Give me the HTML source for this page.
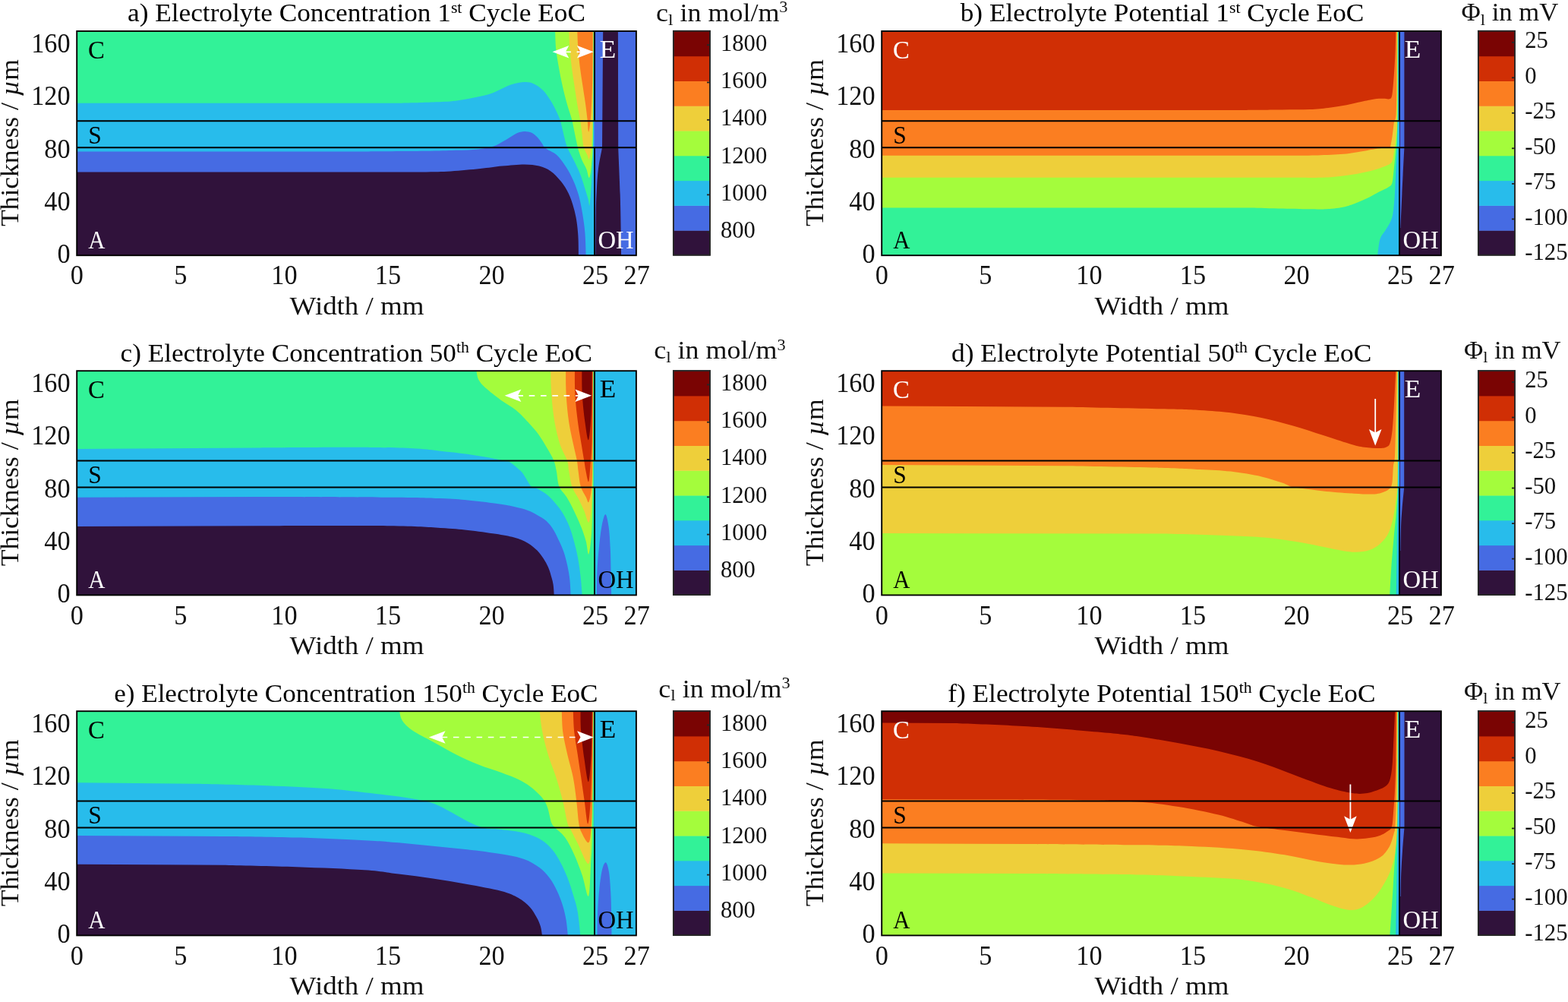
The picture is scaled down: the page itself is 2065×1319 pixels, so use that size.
<!DOCTYPE html>
<html><head><meta charset="utf-8"><title>Electrolyte concentration and potential</title>
<style>html,body{margin:0;padding:0;background:#fff;overflow:hidden;}svg{display:block;}text{font-family:'Liberation Serif', 'DejaVu Serif', serif;}</style>
</head><body>
<svg width="2065" height="1319" viewBox="0 0 2065 1319">
<rect width="2065" height="1319" fill="#fff"/>
<clipPath id="cp00"><rect x="101.2" y="41" width="736.7" height="295.2"/></clipPath>
<g clip-path="url(#cp00)">
<rect x="95" y="39" width="750" height="299" fill="#466be3"/>
<path d="M99,199.5 L480,199.4 C493.3,199.3 540,199.1 560,198.8 C580,198.5 588.3,198.2 600,197.8 C611.7,197.4 621.7,197.3 630,196.4 C638.3,195.5 644.6,194.2 649.9,192.6 C655.1,191 658,188.7 661.5,186.8 C665,184.9 668,182.9 671.2,181 C674.4,179.1 677.7,176.5 680.9,175.2 C684.1,173.8 687.4,173 690.6,172.9 C693.8,172.8 697.3,173.5 700.2,174.8 C703.1,176.2 705.7,178.7 708,181 C710.3,183.3 712.3,186.6 713.8,188.7 C715.2,190.8 715.5,192.2 716.7,193.6 C718,195 718.5,195.2 721.3,197 C724.1,198.8 729.5,200.5 733.5,204.3 C737.5,208.1 742,214.3 745.6,220 C749.2,225.7 752.5,231.7 755.3,238.2 C758.1,244.7 760.6,251.4 762.6,258.9 C764.6,266.4 766.1,275 767.4,283.1 C768.7,291.2 769.8,298.2 770.5,307.4 C771.2,316.5 771.5,332.9 771.7,338 L782.5,338 L782.5,39 L99,39 Z" fill="#28bceb"/>
<path d="M99,226.4 L477,226.4 C490,226.4 535.5,226.6 555,226.4 C574.5,226.2 580.8,226.1 593.7,225.4 C606.6,224.7 621.1,223.2 632.4,222.1 C643.7,221 651.8,219.5 661.5,218.6 C671.2,217.7 682.5,216.4 690.6,216.4 C698.7,216.4 704.1,217.1 709.9,218.6 C715.7,220.1 720.5,222.1 725.4,225.5 C730.2,228.9 735.1,234.2 739,239.1 C742.9,243.9 746.1,249.4 748.7,254.6 C751.3,259.8 752.9,264.9 754.5,270.1 C756.1,275.3 757.4,280.6 758.4,285.6 C759.4,290.6 760,295.1 760.5,300 C761,304.9 761.4,308.7 761.6,315 C761.9,321.3 761.9,334.2 762,338 L99,338 Z" fill="#30123b"/>
<path d="M99,135.8 L528,135.8 C535,135.6 558,135.1 570,134.6 C582,134.1 591,133.8 600,132.8 C609,131.8 616.2,130.3 624.3,128.6 C632.4,126.9 640.4,125.3 648.5,122.5 C656.6,119.7 665.7,114 672.8,111.6 C679.9,109.2 686,108.2 691,108 C696,107.8 699.1,108.6 703.1,110.4 C707.1,112.2 711.6,115.3 715.3,118.9 C718.9,122.5 722.4,128.2 725,132.2 C727.6,136.2 729,139 731,143.1 C733,147.2 735.6,152.4 737.1,156.5 C738.6,160.6 739,163 740.1,167.4 C741.2,171.8 742.6,178.4 743.8,183 C745,187.6 745.6,190.4 747.5,195 C749.4,199.6 752.6,204.7 755.3,210.3 C758,215.9 761.4,222.4 763.8,228.5 C766.2,234.6 768.1,241 769.9,246.7 C771.7,252.4 773.6,258.6 774.7,262.5 C775.8,266.4 775.8,273.4 776.5,269.8 C777.2,266.2 778.3,251.6 779,240.7 C779.7,229.8 780.4,219.4 780.8,204.3 C781.2,189.2 781.4,177.6 781.6,150 C781.8,122.5 781.8,57.5 781.8,39 L99,39 Z" fill="#32f298"/>
<path d="M731,39 C731.2,43.2 731.4,56 732.2,64.3 C733,72.5 734.5,80.4 735.9,88.5 C737.3,96.6 738.9,104.7 740.7,112.8 C742.5,120.9 744.8,129.7 746.8,137 C748.8,144.3 751.3,150.4 752.9,156.5 C754.5,162.6 755.5,168.7 756.5,173.5 C757.5,178.3 758.2,181.8 759,185.6 C759.8,189.3 760.2,191.9 761.4,196 C762.6,200.1 764.4,205.9 766.2,210.3 C768,214.7 770.7,218.6 772.3,222.5 C773.9,226.4 774.9,235 776,234 C777.1,233 778.2,225.4 779,216.4 C779.8,207.4 780.4,209.6 780.8,180 C781.2,150.4 781.5,62.5 781.6,39 Z" fill="#a4fc3c"/>
<path d="M749.2,39 C749.4,43.2 749.8,56 750.4,64.3 C751,72.5 751.9,80.4 752.9,88.5 C753.9,96.6 755.3,104.7 756.5,112.8 C757.7,120.9 759,129.7 760.2,137 C761.4,144.3 762.8,150.4 763.8,156.5 C764.8,162.6 765.4,167.4 766.2,173.5 C767,179.6 767.4,187.9 768.6,193 C769.8,198.1 772.3,201.6 773.5,204.3 C774.7,207 775.1,211.2 776,209.1 C776.9,207 778.2,201.8 779,192 C779.8,182.2 780.2,175.5 780.6,150 C781,124.5 781.2,57.5 781.3,39 Z" fill="#eecf3a"/>
<path d="M760.2,39 C760.4,43.2 760.8,56 761.4,64.3 C762,72.5 762.8,80.4 763.8,88.5 C764.8,96.6 766.2,104.7 767.4,112.8 C768.6,120.9 770.1,129.7 771.1,137 C772.1,144.3 772.8,150.4 773.5,156.5 C774.2,162.6 774.5,174.7 775.3,173.5 C776.1,172.3 777.6,161.3 778.4,149.2 C779.2,137.1 779.9,119.1 780.3,100.7 C780.7,82.3 780.7,49.3 780.8,39 Z" fill="#fb7e21"/>
<rect x="783" y="39" width="62" height="299" fill="#466be3"/>
<path d="M794.2,39 L813.9,39 L814.2,194.6 C814.6,205.5 816.1,236.1 816.8,260 C817.5,283.9 818,325 818.2,338 L784.4,338 C784.5,328.3 784.6,294.1 784.8,279.6 C785,265.1 785.3,260.4 785.8,250.8 C786.3,241.2 786.8,231.4 788,222 C789.2,212.6 792.2,199.2 793,194.6 L794.2,39 Z" fill="#30123b"/>
<line x1="744.3" y1="68.3" x2="764.9" y2="68.3" stroke="#fff" stroke-width="1.7" stroke-dasharray="7.6 7.7"/>
<path d="M727.5,68.3 L749.3,60 L744.8,68.3 L749.3,76.6 Z" fill="#fff"/>
<path d="M781.7,68.3 L759.9,60 L764.4,68.3 L759.9,76.6 Z" fill="#fff"/>
</g>
<g transform="translate(0,0)">
<path d="M101.2,159.3 H837.9 M101.2,194.3 H837.9 M783,41 V159.3 M783,194.3 V336.2" stroke="#000" stroke-width="1.9" fill="none"/>
<rect x="101.2" y="41" width="736.7" height="295.2" fill="none" stroke="#000" stroke-width="1.9"/>
<text x="116.1" y="76.8" font-size="34.5" text-anchor="start" fill="#000" textLength="21.9" lengthAdjust="spacingAndGlyphs">C</text>
<text x="116.2" y="188.8" font-size="34.5" text-anchor="start" fill="#000" textLength="17.5" lengthAdjust="spacingAndGlyphs">S</text>
<text x="116.3" y="327" font-size="34.5" text-anchor="start" fill="#fff" textLength="22.2" lengthAdjust="spacingAndGlyphs">A</text>
<text x="789.8" y="76" font-size="34.5" text-anchor="start" fill="#fff" textLength="21.5" lengthAdjust="spacingAndGlyphs">E</text>
<text x="787.4" y="327.2" font-size="34.5" text-anchor="start" fill="#fff" textLength="47.2" lengthAdjust="spacingAndGlyphs">OH</text>
<text x="92.5" y="346.2" font-size="35.5" text-anchor="end" fill="#111111" textLength="17.1" lengthAdjust="spacingAndGlyphs">0</text>
<text x="92.5" y="276.9" font-size="35.5" text-anchor="end" fill="#111111" textLength="34.2" lengthAdjust="spacingAndGlyphs">40</text>
<text x="92.5" y="207.6" font-size="35.5" text-anchor="end" fill="#111111" textLength="34.2" lengthAdjust="spacingAndGlyphs">80</text>
<text x="92.5" y="138.3" font-size="35.5" text-anchor="end" fill="#111111" textLength="51.3" lengthAdjust="spacingAndGlyphs">120</text>
<text x="92.5" y="69" font-size="35.5" text-anchor="end" fill="#111111" textLength="51.3" lengthAdjust="spacingAndGlyphs">160</text>
<text x="101.3" y="374.4" font-size="35.5" text-anchor="middle" fill="#111111" textLength="17.1" lengthAdjust="spacingAndGlyphs">0</text>
<text x="237.8" y="374.4" font-size="35.5" text-anchor="middle" fill="#111111" textLength="17.1" lengthAdjust="spacingAndGlyphs">5</text>
<text x="374.4" y="374.4" font-size="35.5" text-anchor="middle" fill="#111111" textLength="34.2" lengthAdjust="spacingAndGlyphs">10</text>
<text x="510.9" y="374.4" font-size="35.5" text-anchor="middle" fill="#111111" textLength="34.2" lengthAdjust="spacingAndGlyphs">15</text>
<text x="647.5" y="374.4" font-size="35.5" text-anchor="middle" fill="#111111" textLength="34.2" lengthAdjust="spacingAndGlyphs">20</text>
<text x="784" y="374.4" font-size="35.5" text-anchor="middle" fill="#111111" textLength="34.2" lengthAdjust="spacingAndGlyphs">25</text>
<text x="838.7" y="374.4" font-size="35.5" text-anchor="middle" fill="#111111" textLength="34.2" lengthAdjust="spacingAndGlyphs">27</text>
<text x="470" y="413.5" font-size="34" text-anchor="middle" fill="#111111" textLength="177" lengthAdjust="spacingAndGlyphs">Width / mm</text>
<text transform="translate(24,188.1) rotate(-90)" font-size="34" text-anchor="middle" fill="#111111" textLength="220" lengthAdjust="spacingAndGlyphs">Thickness / <tspan font-style="italic">µ</tspan>m</text>
</g>
<text x="168" y="28.3" font-size="34" fill="#000" textLength="603" lengthAdjust="spacingAndGlyphs">a) Electrolyte Concentration 1<tspan font-size="21" dy="-11.8">st</tspan><tspan dy="11.8"> Cycle EoC</tspan></text>
<g transform="translate(0,0)">
<rect x="886.9" y="303.2" width="48.1" height="33.2" fill="#30123b"/>
<rect x="886.9" y="270.5" width="48.1" height="33.2" fill="#466be3"/>
<rect x="886.9" y="237.7" width="48.1" height="33.2" fill="#28bceb"/>
<rect x="886.9" y="204.9" width="48.1" height="33.2" fill="#32f298"/>
<rect x="886.9" y="172.1" width="48.1" height="33.2" fill="#a4fc3c"/>
<rect x="886.9" y="139.3" width="48.1" height="33.2" fill="#eecf3a"/>
<rect x="886.9" y="106.6" width="48.1" height="33.2" fill="#fb7e21"/>
<rect x="886.9" y="73.8" width="48.1" height="33.2" fill="#d02f05"/>
<rect x="886.9" y="41" width="48.1" height="33.2" fill="#7a0403"/>
<rect x="886.9" y="40.8" width="48.1" height="295" fill="none" stroke="#262626" stroke-width="1.9"/>
<text x="864" y="27.5" font-size="34" fill="#111111" textLength="173.5" lengthAdjust="spacingAndGlyphs">c<tspan font-size="22" dy="5">l</tspan><tspan dy="-5"> in mol/m</tspan><tspan font-size="21" dy="-11.2">3</tspan></text>
<line x1="931" y1="59.2" x2="935" y2="59.2" stroke="#262626" stroke-width="1.8"/>
<text x="949" y="66.6" font-size="31.5" text-anchor="start" fill="#111111" textLength="61.2" lengthAdjust="spacingAndGlyphs">1800</text>
<line x1="931" y1="108.5" x2="935" y2="108.5" stroke="#262626" stroke-width="1.8"/>
<text x="949" y="115.9" font-size="31.5" text-anchor="start" fill="#111111" textLength="61.2" lengthAdjust="spacingAndGlyphs">1600</text>
<line x1="931" y1="157.8" x2="935" y2="157.8" stroke="#262626" stroke-width="1.8"/>
<text x="949" y="165.2" font-size="31.5" text-anchor="start" fill="#111111" textLength="61.2" lengthAdjust="spacingAndGlyphs">1400</text>
<line x1="931" y1="207.1" x2="935" y2="207.1" stroke="#262626" stroke-width="1.8"/>
<text x="949" y="214.5" font-size="31.5" text-anchor="start" fill="#111111" textLength="61.2" lengthAdjust="spacingAndGlyphs">1200</text>
<line x1="931" y1="256.4" x2="935" y2="256.4" stroke="#262626" stroke-width="1.8"/>
<text x="949" y="263.8" font-size="31.5" text-anchor="start" fill="#111111" textLength="61.2" lengthAdjust="spacingAndGlyphs">1000</text>
<line x1="931" y1="305.7" x2="935" y2="305.7" stroke="#262626" stroke-width="1.8"/>
<text x="949" y="313.1" font-size="31.5" text-anchor="start" fill="#111111" textLength="45.9" lengthAdjust="spacingAndGlyphs">800</text>
</g>
<clipPath id="cp10"><rect x="1161.2" y="41" width="736.7" height="295.2"/></clipPath>
<g clip-path="url(#cp10)">
<rect x="1155" y="39" width="688" height="299" fill="#28bceb"/>
<path d="M1159,39 L1841.3,39 L1841,150 L1840.1,194.5 C1839.8,199.4 1839,213.5 1838.4,224.1 C1837.8,234.7 1837.4,248.7 1836.7,258.2 C1836,267.7 1835.4,275.3 1834.4,281 C1833.5,286.7 1832.7,288.5 1831,292.3 C1829.3,296.1 1826.5,299.9 1824.2,303.7 C1821.9,307.5 1819.1,309.4 1817.4,315.1 C1815.7,320.8 1814.6,334.2 1814,338 L1159,338 Z" fill="#32f298"/>
<path d="M1159,273.6 L1640,273.6 C1653.3,273.9 1700.6,275.1 1719.6,275.3 C1738.5,275.5 1744.2,275.5 1753.7,274.7 C1763.2,273.9 1768.8,272.9 1776.4,270.7 C1784,268.5 1792.6,264.6 1799.2,261.6 C1805.8,258.6 1811.5,254.9 1816.2,252.5 C1820.9,250.1 1824.8,248.8 1827.6,246.9 C1830.4,245 1832,245 1833.3,241.2 C1834.6,237.4 1834.8,230.7 1835.6,224.1 C1836.3,217.5 1837.2,207.9 1837.8,201.4 C1838.4,194.9 1838.9,191.9 1839.3,185 C1839.7,178.1 1840.1,174.2 1840.3,160 C1840.5,145.8 1840.6,120.2 1840.7,100 C1840.8,79.8 1840.8,49.2 1840.8,39 L1159,39 Z" fill="#a4fc3c"/>
<path d="M1159,233.8 L1700,233.8 C1707,233.8 1731.5,234.1 1742.3,233.8 C1753.1,233.5 1757.4,232.9 1765,232.1 C1772.6,231.2 1780.2,230.1 1787.8,228.7 C1795.4,227.3 1803.9,225.4 1810.5,223.5 C1817.1,221.6 1823.8,219.1 1827.6,217.3 C1831.4,215.5 1832,215.3 1833.3,212.7 C1834.6,210 1835,204.4 1835.6,201.4 C1836.2,198.4 1836.2,198.1 1836.7,194.5 C1837.2,190.9 1837.8,185.8 1838.3,180 C1838.8,174.2 1839.3,173.3 1839.6,160 C1839.9,146.7 1840,120.2 1840.1,100 C1840.2,79.8 1840.2,49.2 1840.2,39 L1159,39 Z" fill="#eecf3a"/>
<path d="M1159,204.8 L1700,204.7 C1705.2,204.7 1720.2,204.9 1731,204.6 C1741.8,204.3 1755.5,203.8 1765,203.1 C1774.5,202.4 1780.2,201.3 1787.8,200.2 C1795.4,199.1 1804.8,197.2 1810.5,196.3 C1816.2,195.4 1820.1,194.9 1822,194.6 L1831,194.3 C1831.4,191.9 1832.7,185.5 1833.5,180 C1834.3,174.5 1835.1,166.3 1835.9,161.3 C1836.8,156.3 1838,160.2 1838.6,150 C1839.2,139.8 1839.2,118.5 1839.4,100 C1839.6,81.5 1839.5,49.2 1839.5,39 L1159,39 Z" fill="#fb7e21"/>
<path d="M1159,144.9 L1640,144.9 C1648.1,144.8 1674.3,144.6 1688.5,144.5 C1702.7,144.4 1714.8,144.5 1724.9,144.1 C1735,143.7 1741.1,142.9 1749.2,141.9 C1757.3,140.9 1765.3,139.7 1773.4,138.2 C1781.5,136.7 1791.6,134.1 1797.7,132.8 C1803.8,131.5 1805.8,130.9 1809.8,130.4 C1813.8,129.9 1818.7,129.8 1821.9,129.8 C1825.1,129.8 1827.4,130.8 1829.2,130.4 C1831,130 1831.9,130.2 1832.8,127.3 C1833.7,124.4 1834.1,119.3 1834.7,112.8 C1835.3,106.3 1836,96.6 1836.5,88.5 C1837,80.4 1837.4,72.5 1837.7,64.3 C1838,56 1838.2,43.2 1838.3,39 L1159,39 Z" fill="#d02f05"/>
<rect x="1843" y="39" width="62" height="299" fill="#30123b"/>
<path d="M1844.6,39 L1849.4,39 L1849.4,194.5 C1849.1,200.4 1848.1,219.4 1847.6,230 C1847.1,240.6 1846.8,246.3 1846.3,258 C1845.8,269.7 1844.7,293 1844.4,300 L1843.8,300 L1843.8,39 Z" fill="#466be3"/>
</g>
<g transform="translate(1060,0)">
<path d="M101.2,159.3 H837.9 M101.2,194.3 H837.9 M783,41 V159.3 M783,194.3 V336.2" stroke="#000" stroke-width="1.9" fill="none"/>
<rect x="101.2" y="41" width="736.7" height="295.2" fill="none" stroke="#000" stroke-width="1.9"/>
<text x="116.1" y="76.8" font-size="34.5" text-anchor="start" fill="#fff" textLength="21.9" lengthAdjust="spacingAndGlyphs">C</text>
<text x="116.2" y="188.8" font-size="34.5" text-anchor="start" fill="#000" textLength="17.5" lengthAdjust="spacingAndGlyphs">S</text>
<text x="116.3" y="327" font-size="34.5" text-anchor="start" fill="#000" textLength="22.2" lengthAdjust="spacingAndGlyphs">A</text>
<text x="789.8" y="76" font-size="34.5" text-anchor="start" fill="#fff" textLength="21.5" lengthAdjust="spacingAndGlyphs">E</text>
<text x="787.4" y="327.2" font-size="34.5" text-anchor="start" fill="#fff" textLength="47.2" lengthAdjust="spacingAndGlyphs">OH</text>
<text x="92.5" y="346.2" font-size="35.5" text-anchor="end" fill="#111111" textLength="17.1" lengthAdjust="spacingAndGlyphs">0</text>
<text x="92.5" y="276.9" font-size="35.5" text-anchor="end" fill="#111111" textLength="34.2" lengthAdjust="spacingAndGlyphs">40</text>
<text x="92.5" y="207.6" font-size="35.5" text-anchor="end" fill="#111111" textLength="34.2" lengthAdjust="spacingAndGlyphs">80</text>
<text x="92.5" y="138.3" font-size="35.5" text-anchor="end" fill="#111111" textLength="51.3" lengthAdjust="spacingAndGlyphs">120</text>
<text x="92.5" y="69" font-size="35.5" text-anchor="end" fill="#111111" textLength="51.3" lengthAdjust="spacingAndGlyphs">160</text>
<text x="101.3" y="374.4" font-size="35.5" text-anchor="middle" fill="#111111" textLength="17.1" lengthAdjust="spacingAndGlyphs">0</text>
<text x="237.8" y="374.4" font-size="35.5" text-anchor="middle" fill="#111111" textLength="17.1" lengthAdjust="spacingAndGlyphs">5</text>
<text x="374.4" y="374.4" font-size="35.5" text-anchor="middle" fill="#111111" textLength="34.2" lengthAdjust="spacingAndGlyphs">10</text>
<text x="510.9" y="374.4" font-size="35.5" text-anchor="middle" fill="#111111" textLength="34.2" lengthAdjust="spacingAndGlyphs">15</text>
<text x="647.5" y="374.4" font-size="35.5" text-anchor="middle" fill="#111111" textLength="34.2" lengthAdjust="spacingAndGlyphs">20</text>
<text x="784" y="374.4" font-size="35.5" text-anchor="middle" fill="#111111" textLength="34.2" lengthAdjust="spacingAndGlyphs">25</text>
<text x="838.7" y="374.4" font-size="35.5" text-anchor="middle" fill="#111111" textLength="34.2" lengthAdjust="spacingAndGlyphs">27</text>
<text x="470" y="413.5" font-size="34" text-anchor="middle" fill="#111111" textLength="177" lengthAdjust="spacingAndGlyphs">Width / mm</text>
<text transform="translate(24,188.1) rotate(-90)" font-size="34" text-anchor="middle" fill="#111111" textLength="220" lengthAdjust="spacingAndGlyphs">Thickness / <tspan font-style="italic">µ</tspan>m</text>
</g>
<text x="1264.7" y="28.3" font-size="34" fill="#000" textLength="531.7" lengthAdjust="spacingAndGlyphs">b) Electrolyte Potential 1<tspan font-size="21" dy="-11.8">st</tspan><tspan dy="11.8"> Cycle EoC</tspan></text>
<g transform="translate(1060,0)">
<rect x="886.9" y="303.2" width="48.1" height="33.2" fill="#30123b"/>
<rect x="886.9" y="270.5" width="48.1" height="33.2" fill="#466be3"/>
<rect x="886.9" y="237.7" width="48.1" height="33.2" fill="#28bceb"/>
<rect x="886.9" y="204.9" width="48.1" height="33.2" fill="#32f298"/>
<rect x="886.9" y="172.1" width="48.1" height="33.2" fill="#a4fc3c"/>
<rect x="886.9" y="139.3" width="48.1" height="33.2" fill="#eecf3a"/>
<rect x="886.9" y="106.6" width="48.1" height="33.2" fill="#fb7e21"/>
<rect x="886.9" y="73.8" width="48.1" height="33.2" fill="#d02f05"/>
<rect x="886.9" y="41" width="48.1" height="33.2" fill="#7a0403"/>
<rect x="886.9" y="40.8" width="48.1" height="295" fill="none" stroke="#262626" stroke-width="1.9"/>
<text x="864.6" y="27.4" font-size="34" fill="#111111" textLength="127.6" lengthAdjust="spacingAndGlyphs">Φ<tspan font-size="22" dy="5.3">l</tspan><tspan dy="-5.3"> in mV</tspan></text>
<line x1="931" y1="55.8" x2="935" y2="55.8" stroke="#262626" stroke-width="1.8"/>
<text x="948.2" y="63.2" font-size="31.5" text-anchor="start" fill="#111111" textLength="30.6" lengthAdjust="spacingAndGlyphs">25</text>
<line x1="931" y1="102.3" x2="935" y2="102.3" stroke="#262626" stroke-width="1.8"/>
<text x="948.2" y="109.7" font-size="31.5" text-anchor="start" fill="#111111" textLength="15.3" lengthAdjust="spacingAndGlyphs">0</text>
<line x1="931" y1="148.8" x2="935" y2="148.8" stroke="#262626" stroke-width="1.8"/>
<text x="948.2" y="156.2" font-size="31.5" text-anchor="start" fill="#111111" textLength="41.1" lengthAdjust="spacingAndGlyphs">-25</text>
<line x1="931" y1="195.3" x2="935" y2="195.3" stroke="#262626" stroke-width="1.8"/>
<text x="948.2" y="202.7" font-size="31.5" text-anchor="start" fill="#111111" textLength="41.1" lengthAdjust="spacingAndGlyphs">-50</text>
<line x1="931" y1="241.9" x2="935" y2="241.9" stroke="#262626" stroke-width="1.8"/>
<text x="948.2" y="249.3" font-size="31.5" text-anchor="start" fill="#111111" textLength="41.1" lengthAdjust="spacingAndGlyphs">-75</text>
<line x1="931" y1="288.4" x2="935" y2="288.4" stroke="#262626" stroke-width="1.8"/>
<text x="948.2" y="295.8" font-size="31.5" text-anchor="start" fill="#111111" textLength="56.4" lengthAdjust="spacingAndGlyphs">-100</text>
<text x="948.2" y="342.4" font-size="31.5" text-anchor="start" fill="#111111" textLength="56.4" lengthAdjust="spacingAndGlyphs">-125</text>
</g>
<clipPath id="cp01"><rect x="101.2" y="488.2" width="736.7" height="295.2"/></clipPath>
<g clip-path="url(#cp01)">
<rect x="95" y="486" width="750" height="299" fill="#466be3"/>
<path d="M99,654.7 L342,654 C370.3,654.1 471.9,654.4 511.6,654.7 C551.3,655.1 562.5,655.5 580,656.1 C597.5,656.7 604.3,657.4 616.4,658.5 C628.5,659.6 642.7,661.4 652.8,662.8 C662.9,664.2 670,665.5 677.1,667 C684.2,668.5 690.2,670.1 695.2,671.9 C700.2,673.7 703.4,675.6 707.4,677.9 C711.4,680.2 715.9,682.5 719.5,685.8 C723.1,689.1 726.4,693.4 729.2,697.9 C732,702.4 734.3,707.6 736.5,712.5 C738.7,717.4 740.8,721.6 742.6,727.1 C744.4,732.6 746.1,739.2 747.4,745.3 C748.7,751.3 749.7,756.8 750.4,763.4 C751.1,770 751.5,781.4 751.7,785 L782.5,785 L782.5,486 L99,486 Z" fill="#28bceb"/>
<path d="M99,693 L342,692.3 C370.3,692.3 471.9,691.9 511.6,692.3 C551.3,692.7 562.5,694 580,694.9 C597.5,695.8 604.3,696.6 616.4,697.9 C628.5,699.2 642.7,701.2 652.8,702.8 C662.9,704.4 670,705.6 677.1,707.6 C684.2,709.6 690.2,712.1 695.2,714.9 C700.2,717.7 704,721.2 707.4,724.6 C710.8,728 713.5,731.9 715.9,735.5 C718.3,739.1 720.3,742.9 721.9,746.5 C723.5,750.1 724.5,753.6 725.6,757.4 C726.7,761.2 727.9,764.9 728.6,769.5 C729.3,774.1 729.6,782.4 729.8,785 L99,785 Z" fill="#30123b"/>
<path d="M99,591.1 L342,589.4 C366.2,589.3 453.1,588.7 487.4,588.9 C521.7,589.1 532.6,589.8 548,590.6 C563.4,591.4 568.8,592.5 580,593.7 C591.2,594.9 603.5,596.1 615.3,597.8 C627,599.5 642.3,602.2 650.5,603.7 C658.7,605.2 661.1,606.1 664.6,606.9 C668.1,607.7 668.2,606.2 671.7,608.4 C675.2,610.6 682.3,616.5 685.8,620.1 C689.3,623.7 690.6,626.7 692.8,630 C695,633.3 696.9,637.7 698.9,639.7 C700.9,641.7 701.6,640.3 705,642.1 C708.4,643.9 715.1,647.2 719.5,650.6 C723.9,654 728,658.5 731.6,662.8 C735.2,667 738.4,671 741.4,676.1 C744.4,681.2 747.4,687 749.8,693.1 C752.2,699.2 754.1,705.8 755.9,712.5 C757.7,719.2 759.4,725.6 760.8,733.1 C762.2,740.6 763.4,748.8 764.4,757.4 C765.4,766 766.4,780.4 766.8,785 L782.3,785 L782.3,486 L99,486 Z" fill="#32f298"/>
<path d="M627,486 C627.6,488.4 628.1,496 630.5,500.3 C632.9,504.6 635.8,507.3 641.1,512 C646.4,516.7 655.8,523.8 662.3,528.5 C668.8,533.2 674,535.3 679.9,540.2 C685.8,545.1 692.6,552.6 697.5,557.9 C702.4,563.2 705.4,566.5 709.3,572 C713.2,577.5 717.7,585.1 721,590.8 C724.3,596.5 727.2,601.1 729.2,606 C731.2,610.9 731.6,614.4 732.8,620.1 C734,625.9 734.2,634.8 736.4,640.5 C738.6,646.2 743,649 746.2,654.3 C749.5,659.6 752.7,665.8 755.9,672.5 C759.1,679.2 763,687.6 765.6,694.3 C768.2,701 770.1,706.6 771.7,712.5 C773.3,718.4 774.1,731.1 775.3,729.5 C776.5,727.9 778.2,713.3 779,702.8 C779.8,692.3 779.9,683.5 780.2,666.4 C780.5,649.3 780.8,630.1 781,600 C781.2,569.9 781.3,505 781.4,486 Z" fill="#a4fc3c"/>
<path d="M725.1,486 C725.3,491.7 725.4,508.7 726.3,520.3 C727.2,531.9 728.5,544.7 730.4,555.5 C732.3,566.3 734.8,576.5 737.5,584.9 C740.2,593.3 744.9,600.1 746.9,606 C748.9,611.9 748.1,614.3 749.2,620.1 C750.3,625.9 751.4,634.9 753.5,641 C755.6,647.1 759.4,651.5 762,656.7 C764.6,662 767.1,667.4 769.3,672.5 C771.5,677.6 773.7,688.6 775.3,687.6 C776.9,686.6 778.1,677.7 779,666.4 C779.9,655.1 780.1,650.1 780.5,620 C780.9,589.9 781,508.3 781.1,486 Z" fill="#eecf3a"/>
<path d="M745.1,486 C745.2,491.7 745,508.7 745.7,520.3 C746.4,531.9 747.6,544.7 749.2,555.5 C750.8,566.3 753.3,576.5 755.1,584.9 C756.9,593.3 758.7,600.1 759.8,606 C760.9,611.9 760.8,614.4 761.6,620.1 C762.4,625.9 763.1,634.8 764.8,640.5 C766.5,646.2 770,650.9 771.7,654.3 C773.5,657.7 774.1,662.9 775.3,660.9 C776.5,658.9 778.1,652.2 779,642.1 C779.9,632 780.1,626 780.4,600 C780.7,574 780.7,505 780.8,486 Z" fill="#fb7e21"/>
<path d="M756.9,486 C757,491.7 756.7,508.7 757.4,520.3 C758.1,531.9 759.6,544.7 761,555.5 C762.4,566.3 764.3,576.5 765.7,584.9 C767.1,593.3 768.2,600.1 769.2,606 C770.2,611.9 770.5,615.4 771.5,620.1 C772.5,624.8 774.1,635.2 775.1,634.2 C776.1,633.2 776.6,623.5 777.4,614.3 C778.1,605.1 779.1,600.4 779.6,579 C780.1,557.6 780.3,501.5 780.4,486 Z" fill="#d02f05"/>
<path d="M766.3,486 C766.4,491.7 766.1,508.7 766.8,520.3 C767.5,531.9 769,545.7 770.4,555.5 C771.8,565.3 773.7,581 775.1,579 C776.5,577 777.9,557.5 778.6,543.8 C779.4,530.1 779.4,506.4 779.6,496.8 C779.8,487.2 779.8,487.8 779.8,486 Z" fill="#7a0403"/>
<rect x="783" y="486" width="62" height="299" fill="#28bceb"/>
<path d="M785.8,785 C785.9,779.4 786,761.6 786.5,751.2 C787,740.8 787.7,732 788.7,722.4 C789.7,712.8 790.9,701.1 792.3,693.6 C793.7,686.1 795.8,677.1 797.3,677.1 C798.8,677.1 800.5,686.1 801.6,693.6 C802.7,701.1 803.3,712.8 803.8,722.4 C804.3,732 804.3,740.8 804.5,751.2 C804.7,761.6 805.1,779.4 805.2,785 Z" fill="#466be3"/>
<line x1="681.4" y1="520.8" x2="762.4" y2="520.8" stroke="#fff" stroke-width="1.7" stroke-dasharray="7.6 7.7"/>
<path d="M664.6,520.8 L686.4,512.5 L681.9,520.8 L686.4,529.1 Z" fill="#fff"/>
<path d="M779.2,520.8 L757.4,512.5 L761.9,520.8 L757.4,529.1 Z" fill="#fff"/>
</g>
<g transform="translate(0,447.2)">
<path d="M101.2,159.3 H837.9 M101.2,194.3 H837.9 M783,41 V159.3 M783,194.3 V336.2" stroke="#000" stroke-width="1.9" fill="none"/>
<rect x="101.2" y="41" width="736.7" height="295.2" fill="none" stroke="#000" stroke-width="1.9"/>
<text x="116.1" y="76.8" font-size="34.5" text-anchor="start" fill="#000" textLength="21.9" lengthAdjust="spacingAndGlyphs">C</text>
<text x="116.2" y="188.8" font-size="34.5" text-anchor="start" fill="#000" textLength="17.5" lengthAdjust="spacingAndGlyphs">S</text>
<text x="116.3" y="327" font-size="34.5" text-anchor="start" fill="#fff" textLength="22.2" lengthAdjust="spacingAndGlyphs">A</text>
<text x="789.8" y="76" font-size="34.5" text-anchor="start" fill="#000" textLength="21.5" lengthAdjust="spacingAndGlyphs">E</text>
<text x="787.4" y="327.2" font-size="34.5" text-anchor="start" fill="#000" textLength="47.2" lengthAdjust="spacingAndGlyphs">OH</text>
<text x="92.5" y="346.2" font-size="35.5" text-anchor="end" fill="#111111" textLength="17.1" lengthAdjust="spacingAndGlyphs">0</text>
<text x="92.5" y="276.9" font-size="35.5" text-anchor="end" fill="#111111" textLength="34.2" lengthAdjust="spacingAndGlyphs">40</text>
<text x="92.5" y="207.6" font-size="35.5" text-anchor="end" fill="#111111" textLength="34.2" lengthAdjust="spacingAndGlyphs">80</text>
<text x="92.5" y="138.3" font-size="35.5" text-anchor="end" fill="#111111" textLength="51.3" lengthAdjust="spacingAndGlyphs">120</text>
<text x="92.5" y="69" font-size="35.5" text-anchor="end" fill="#111111" textLength="51.3" lengthAdjust="spacingAndGlyphs">160</text>
<text x="101.3" y="374.4" font-size="35.5" text-anchor="middle" fill="#111111" textLength="17.1" lengthAdjust="spacingAndGlyphs">0</text>
<text x="237.8" y="374.4" font-size="35.5" text-anchor="middle" fill="#111111" textLength="17.1" lengthAdjust="spacingAndGlyphs">5</text>
<text x="374.4" y="374.4" font-size="35.5" text-anchor="middle" fill="#111111" textLength="34.2" lengthAdjust="spacingAndGlyphs">10</text>
<text x="510.9" y="374.4" font-size="35.5" text-anchor="middle" fill="#111111" textLength="34.2" lengthAdjust="spacingAndGlyphs">15</text>
<text x="647.5" y="374.4" font-size="35.5" text-anchor="middle" fill="#111111" textLength="34.2" lengthAdjust="spacingAndGlyphs">20</text>
<text x="784" y="374.4" font-size="35.5" text-anchor="middle" fill="#111111" textLength="34.2" lengthAdjust="spacingAndGlyphs">25</text>
<text x="838.7" y="374.4" font-size="35.5" text-anchor="middle" fill="#111111" textLength="34.2" lengthAdjust="spacingAndGlyphs">27</text>
<text x="470" y="413.5" font-size="34" text-anchor="middle" fill="#111111" textLength="177" lengthAdjust="spacingAndGlyphs">Width / mm</text>
<text transform="translate(24,188.1) rotate(-90)" font-size="34" text-anchor="middle" fill="#111111" textLength="220" lengthAdjust="spacingAndGlyphs">Thickness / <tspan font-style="italic">µ</tspan>m</text>
</g>
<text x="158.6" y="475.5" font-size="34" fill="#000" textLength="621.4" lengthAdjust="spacingAndGlyphs">c) Electrolyte Concentration 50<tspan font-size="21" dy="-11.8">th</tspan><tspan dy="11.8"> Cycle EoC</tspan></text>
<g transform="translate(0,447.2)">
<rect x="886.9" y="303.2" width="48.1" height="33.2" fill="#30123b"/>
<rect x="886.9" y="270.5" width="48.1" height="33.2" fill="#466be3"/>
<rect x="886.9" y="237.7" width="48.1" height="33.2" fill="#28bceb"/>
<rect x="886.9" y="204.9" width="48.1" height="33.2" fill="#32f298"/>
<rect x="886.9" y="172.1" width="48.1" height="33.2" fill="#a4fc3c"/>
<rect x="886.9" y="139.3" width="48.1" height="33.2" fill="#eecf3a"/>
<rect x="886.9" y="106.6" width="48.1" height="33.2" fill="#fb7e21"/>
<rect x="886.9" y="73.8" width="48.1" height="33.2" fill="#d02f05"/>
<rect x="886.9" y="41" width="48.1" height="33.2" fill="#7a0403"/>
<rect x="886.9" y="40.8" width="48.1" height="295" fill="none" stroke="#262626" stroke-width="1.9"/>
<text x="861.2" y="24.8" font-size="34" fill="#111111" textLength="173.3" lengthAdjust="spacingAndGlyphs">c<tspan font-size="22" dy="5">l</tspan><tspan dy="-5"> in mol/m</tspan><tspan font-size="21" dy="-11.2">3</tspan></text>
<line x1="931" y1="59.2" x2="935" y2="59.2" stroke="#262626" stroke-width="1.8"/>
<text x="949" y="66.6" font-size="31.5" text-anchor="start" fill="#111111" textLength="61.2" lengthAdjust="spacingAndGlyphs">1800</text>
<line x1="931" y1="108.5" x2="935" y2="108.5" stroke="#262626" stroke-width="1.8"/>
<text x="949" y="115.9" font-size="31.5" text-anchor="start" fill="#111111" textLength="61.2" lengthAdjust="spacingAndGlyphs">1600</text>
<line x1="931" y1="157.8" x2="935" y2="157.8" stroke="#262626" stroke-width="1.8"/>
<text x="949" y="165.2" font-size="31.5" text-anchor="start" fill="#111111" textLength="61.2" lengthAdjust="spacingAndGlyphs">1400</text>
<line x1="931" y1="207.1" x2="935" y2="207.1" stroke="#262626" stroke-width="1.8"/>
<text x="949" y="214.5" font-size="31.5" text-anchor="start" fill="#111111" textLength="61.2" lengthAdjust="spacingAndGlyphs">1200</text>
<line x1="931" y1="256.4" x2="935" y2="256.4" stroke="#262626" stroke-width="1.8"/>
<text x="949" y="263.8" font-size="31.5" text-anchor="start" fill="#111111" textLength="61.2" lengthAdjust="spacingAndGlyphs">1000</text>
<line x1="931" y1="305.7" x2="935" y2="305.7" stroke="#262626" stroke-width="1.8"/>
<text x="949" y="313.1" font-size="31.5" text-anchor="start" fill="#111111" textLength="45.9" lengthAdjust="spacingAndGlyphs">800</text>
</g>
<clipPath id="cp11"><rect x="1161.2" y="488.2" width="736.7" height="295.2"/></clipPath>
<g clip-path="url(#cp11)">
<rect x="1155" y="486" width="688" height="299" fill="#28bceb"/>
<path d="M1159,486 L1841.5,486 L1841.5,600 L1840.8,653.6 C1840.6,664.7 1840.1,698.1 1839.8,720 C1839.5,741.9 1838.9,774.2 1838.7,785 L1159,785 Z" fill="#32f298"/>
<path d="M1159,486 L1841,486 L1841,620 L1840.3,653.6 C1840,658.1 1839.1,671.7 1838.3,680.7 C1837.5,689.7 1836.6,696.5 1835.6,707.8 C1834.6,719.1 1833.1,735.6 1832.2,748.5 C1831.3,761.4 1830.5,778.9 1830.2,785 L1159,785 Z" fill="#a4fc3c"/>
<path d="M1159,702.1 L1520,702.4 C1530,702.6 1561,703.1 1580,703.7 C1599,704.3 1618.4,705 1634.2,705.8 C1650,706.6 1661.3,707 1674.9,708.5 C1688.5,710 1702,712.2 1715.6,714.6 C1729.2,717 1745,720.7 1756.3,722.7 C1767.6,724.7 1775.5,726.6 1783.4,726.8 C1791.3,727 1798.1,725.9 1803.7,724.1 C1809.3,722.3 1813.5,719.1 1817.3,715.9 C1821.1,712.7 1824.3,709.2 1826.8,705.1 C1829.3,701 1830.6,696.7 1832.2,691.5 C1833.8,686.3 1835.2,680.2 1836.3,673.9 C1837.4,667.6 1838.3,659 1839,653.6 C1839.7,648.2 1840,650.3 1840.3,641.4 C1840.6,632.5 1840.5,625.9 1840.6,600 C1840.6,574.1 1840.6,505 1840.6,486 L1159,486 Z" fill="#eecf3a"/>
<path d="M1159,612 L1402,613.2 C1422.2,613.6 1493.3,614.8 1523,615.6 C1552.7,616.4 1563.7,617.1 1580,617.9 C1596.3,618.7 1607.1,619 1620.7,620.6 C1634.3,622.2 1650.1,624.9 1661.4,627.4 C1672.7,629.9 1681.7,633.2 1688.5,635.5 C1695.3,637.8 1697.5,640 1702,641.3 C1706.5,642.5 1708.8,642.1 1715.6,643 C1722.4,643.9 1731.4,645.3 1742.7,646.4 C1754,647.5 1772.1,649 1783.4,649.7 C1794.7,650.4 1803.7,650.9 1810.5,650.4 C1817.3,649.9 1820.6,648.4 1824,647 C1827.4,645.6 1829.2,644.4 1830.8,642.3 C1832.4,640.2 1832.9,639 1833.6,634.2 C1834.3,629.5 1834.3,619.4 1834.9,613.8 C1835.5,608.1 1836.4,610.5 1837,600.3 C1837.6,590.1 1837.8,571.8 1838.3,552.8 C1838.8,533.8 1839.5,497.1 1839.7,486 L1159,486 Z" fill="#fb7e21"/>
<path d="M1159,534.5 L1402,535.7 C1422.2,536.1 1493.3,537.5 1523,538.2 C1552.7,538.9 1563.7,539 1580,539.9 C1596.3,540.8 1607.1,541.6 1620.7,543.3 C1634.3,545 1647.9,547.3 1661.4,550.1 C1675,552.9 1688.5,556.5 1702,560.3 C1715.5,564.1 1730.3,569.1 1742.7,573.1 C1755.1,577.1 1767.5,581.4 1776.6,584 C1785.6,586.6 1790.2,587.7 1797,588.7 C1803.8,589.7 1812.3,590.2 1817.3,590.1 C1822.3,590 1824.5,589.4 1826.8,588.1 C1829,586.9 1829.7,586.2 1830.8,582.6 C1831.9,579 1832.8,573.6 1833.6,566.4 C1834.4,559.2 1835,548.2 1835.6,539.2 C1836.2,530.2 1836.5,521 1837,512.1 C1837.5,503.2 1838.1,490.4 1838.3,486 L1159,486 Z" fill="#d02f05"/>
<rect x="1843" y="486" width="62" height="299" fill="#30123b"/>
<path d="M1844.4,486 L1849.2,486 L1849.2,641.5 C1848.8,646.2 1847.2,661.2 1846.5,670 C1845.8,678.8 1845.3,684.8 1845,694 C1844.7,703.2 1844.5,719.8 1844.4,725 L1843.8,725 L1843.8,486 Z" fill="#466be3"/>
<line x1="1811.2" y1="525" x2="1811.2" y2="570.4" stroke="#fff" stroke-width="1.8"/>
<path d="M1811.2,586.7 L1802.9,564.9 L1811.2,569.4 L1819.5,564.9 Z" fill="#fff"/>
</g>
<g transform="translate(1060,447.2)">
<path d="M101.2,159.3 H837.9 M101.2,194.3 H837.9 M783,41 V159.3 M783,194.3 V336.2" stroke="#000" stroke-width="1.9" fill="none"/>
<rect x="101.2" y="41" width="736.7" height="295.2" fill="none" stroke="#000" stroke-width="1.9"/>
<text x="116.1" y="76.8" font-size="34.5" text-anchor="start" fill="#fff" textLength="21.9" lengthAdjust="spacingAndGlyphs">C</text>
<text x="116.2" y="188.8" font-size="34.5" text-anchor="start" fill="#000" textLength="17.5" lengthAdjust="spacingAndGlyphs">S</text>
<text x="116.3" y="327" font-size="34.5" text-anchor="start" fill="#000" textLength="22.2" lengthAdjust="spacingAndGlyphs">A</text>
<text x="789.8" y="76" font-size="34.5" text-anchor="start" fill="#fff" textLength="21.5" lengthAdjust="spacingAndGlyphs">E</text>
<text x="787.4" y="327.2" font-size="34.5" text-anchor="start" fill="#fff" textLength="47.2" lengthAdjust="spacingAndGlyphs">OH</text>
<text x="92.5" y="346.2" font-size="35.5" text-anchor="end" fill="#111111" textLength="17.1" lengthAdjust="spacingAndGlyphs">0</text>
<text x="92.5" y="276.9" font-size="35.5" text-anchor="end" fill="#111111" textLength="34.2" lengthAdjust="spacingAndGlyphs">40</text>
<text x="92.5" y="207.6" font-size="35.5" text-anchor="end" fill="#111111" textLength="34.2" lengthAdjust="spacingAndGlyphs">80</text>
<text x="92.5" y="138.3" font-size="35.5" text-anchor="end" fill="#111111" textLength="51.3" lengthAdjust="spacingAndGlyphs">120</text>
<text x="92.5" y="69" font-size="35.5" text-anchor="end" fill="#111111" textLength="51.3" lengthAdjust="spacingAndGlyphs">160</text>
<text x="101.3" y="374.4" font-size="35.5" text-anchor="middle" fill="#111111" textLength="17.1" lengthAdjust="spacingAndGlyphs">0</text>
<text x="237.8" y="374.4" font-size="35.5" text-anchor="middle" fill="#111111" textLength="17.1" lengthAdjust="spacingAndGlyphs">5</text>
<text x="374.4" y="374.4" font-size="35.5" text-anchor="middle" fill="#111111" textLength="34.2" lengthAdjust="spacingAndGlyphs">10</text>
<text x="510.9" y="374.4" font-size="35.5" text-anchor="middle" fill="#111111" textLength="34.2" lengthAdjust="spacingAndGlyphs">15</text>
<text x="647.5" y="374.4" font-size="35.5" text-anchor="middle" fill="#111111" textLength="34.2" lengthAdjust="spacingAndGlyphs">20</text>
<text x="784" y="374.4" font-size="35.5" text-anchor="middle" fill="#111111" textLength="34.2" lengthAdjust="spacingAndGlyphs">25</text>
<text x="838.7" y="374.4" font-size="35.5" text-anchor="middle" fill="#111111" textLength="34.2" lengthAdjust="spacingAndGlyphs">27</text>
<text x="470" y="413.5" font-size="34" text-anchor="middle" fill="#111111" textLength="177" lengthAdjust="spacingAndGlyphs">Width / mm</text>
<text transform="translate(24,188.1) rotate(-90)" font-size="34" text-anchor="middle" fill="#111111" textLength="220" lengthAdjust="spacingAndGlyphs">Thickness / <tspan font-style="italic">µ</tspan>m</text>
</g>
<text x="1253" y="475.5" font-size="34" fill="#000" textLength="553.3" lengthAdjust="spacingAndGlyphs">d) Electrolyte Potential 50<tspan font-size="21" dy="-11.8">th</tspan><tspan dy="11.8"> Cycle EoC</tspan></text>
<g transform="translate(1060,447.2)">
<rect x="886.9" y="303.2" width="48.1" height="33.2" fill="#30123b"/>
<rect x="886.9" y="270.5" width="48.1" height="33.2" fill="#466be3"/>
<rect x="886.9" y="237.7" width="48.1" height="33.2" fill="#28bceb"/>
<rect x="886.9" y="204.9" width="48.1" height="33.2" fill="#32f298"/>
<rect x="886.9" y="172.1" width="48.1" height="33.2" fill="#a4fc3c"/>
<rect x="886.9" y="139.3" width="48.1" height="33.2" fill="#eecf3a"/>
<rect x="886.9" y="106.6" width="48.1" height="33.2" fill="#fb7e21"/>
<rect x="886.9" y="73.8" width="48.1" height="33.2" fill="#d02f05"/>
<rect x="886.9" y="41" width="48.1" height="33.2" fill="#7a0403"/>
<rect x="886.9" y="40.8" width="48.1" height="295" fill="none" stroke="#262626" stroke-width="1.9"/>
<text x="868" y="24.7" font-size="34" fill="#111111" textLength="127.5" lengthAdjust="spacingAndGlyphs">Φ<tspan font-size="22" dy="5.3">l</tspan><tspan dy="-5.3"> in mV</tspan></text>
<line x1="931" y1="55.8" x2="935" y2="55.8" stroke="#262626" stroke-width="1.8"/>
<text x="948.2" y="63.2" font-size="31.5" text-anchor="start" fill="#111111" textLength="30.6" lengthAdjust="spacingAndGlyphs">25</text>
<line x1="931" y1="102.3" x2="935" y2="102.3" stroke="#262626" stroke-width="1.8"/>
<text x="948.2" y="109.7" font-size="31.5" text-anchor="start" fill="#111111" textLength="15.3" lengthAdjust="spacingAndGlyphs">0</text>
<line x1="931" y1="148.8" x2="935" y2="148.8" stroke="#262626" stroke-width="1.8"/>
<text x="948.2" y="156.2" font-size="31.5" text-anchor="start" fill="#111111" textLength="41.1" lengthAdjust="spacingAndGlyphs">-25</text>
<line x1="931" y1="195.3" x2="935" y2="195.3" stroke="#262626" stroke-width="1.8"/>
<text x="948.2" y="202.7" font-size="31.5" text-anchor="start" fill="#111111" textLength="41.1" lengthAdjust="spacingAndGlyphs">-50</text>
<line x1="931" y1="241.9" x2="935" y2="241.9" stroke="#262626" stroke-width="1.8"/>
<text x="948.2" y="249.3" font-size="31.5" text-anchor="start" fill="#111111" textLength="41.1" lengthAdjust="spacingAndGlyphs">-75</text>
<line x1="931" y1="288.4" x2="935" y2="288.4" stroke="#262626" stroke-width="1.8"/>
<text x="948.2" y="295.8" font-size="31.5" text-anchor="start" fill="#111111" textLength="56.4" lengthAdjust="spacingAndGlyphs">-100</text>
<text x="948.2" y="342.4" font-size="31.5" text-anchor="start" fill="#111111" textLength="56.4" lengthAdjust="spacingAndGlyphs">-125</text>
</g>
<clipPath id="cp02"><rect x="101.2" y="936.2" width="736.7" height="295.2"/></clipPath>
<g clip-path="url(#cp02)">
<rect x="95" y="934" width="750" height="299" fill="#466be3"/>
<path d="M99,1100.1 L293.7,1101 C309.9,1101.3 359.6,1101.7 390.6,1102.6 C421.7,1103.5 457.6,1105.2 480,1106.3 C502.4,1107.4 510,1108 525,1109.3 C540,1110.5 555.1,1112.3 570.1,1113.8 C585.1,1115.3 600.1,1116.5 615.1,1118.3 C630.1,1120 647.7,1122.2 660.2,1124.3 C672.7,1126.4 682,1128.1 690.2,1131 C698.5,1133.9 704.2,1137.6 709.7,1141.6 C715.2,1145.6 719.2,1149.8 723.2,1155.1 C727.2,1160.3 730.7,1166.8 733.7,1173.1 C736.7,1179.3 739.2,1186.1 741.2,1192.6 C743.2,1199.1 744.6,1205.4 745.7,1212.1 C746.8,1218.8 747.6,1229.5 748,1233 L782.5,1233 L782.5,934 L99,934 Z" fill="#28bceb"/>
<path d="M99,1137.8 L293.7,1138.8 C309.9,1139.2 359.6,1140.2 390.6,1141.3 C421.7,1142.4 457.6,1143.8 480,1145.3 C502.4,1146.8 510,1148.7 525,1150.6 C540,1152.5 555.1,1154.3 570.1,1156.6 C585.1,1158.8 600.1,1161.3 615.1,1164.1 C630.1,1166.8 648.9,1170.1 660.2,1173.1 C671.5,1176.1 676.5,1178.6 682.7,1182.1 C689,1185.6 693.7,1189.8 697.7,1194.1 C701.7,1198.3 704.3,1203.3 706.7,1207.6 C709.1,1211.8 710.6,1215.4 711.9,1219.6 C713.1,1223.8 713.8,1230.8 714.2,1233 L99,1233 Z" fill="#30123b"/>
<path d="M99,1030.3 L255,1031.7 C271.1,1032.1 322.8,1033.1 351.8,1034.2 C380.9,1035.3 407.9,1036.6 429.3,1038.1 C450.7,1039.6 464.1,1041.5 480,1043.3 C495.9,1045 511.7,1046.7 525,1048.6 C538.3,1050.5 550.8,1052.6 559.6,1054.6 C568.4,1056.6 570.9,1057.6 577.6,1060.6 C584.4,1063.6 592.6,1068.6 600.1,1072.6 C607.6,1076.6 616,1081.6 622.6,1084.6 C629.2,1087.6 633.7,1089.2 640,1090.5 C646.3,1091.8 651.8,1091.1 660.2,1092.1 C668.6,1093.1 681.5,1094.4 690.2,1096.6 C699,1098.8 706.5,1101.8 712.7,1105.5 C719,1109.2 723.5,1114 727.7,1119 C732,1124 735,1129.5 738.2,1135.5 C741.5,1141.5 744.5,1148.1 747.2,1155.1 C750,1162.1 752.5,1170.1 754.7,1177.6 C757,1185.1 759.1,1190.9 760.7,1200.1 C762.3,1209.3 763.9,1227.5 764.5,1233 L782.3,1233 L782.3,934 L99,934 Z" fill="#32f298"/>
<path d="M525.8,934 C526.4,936.3 526.6,943.4 529.5,948 C532.4,952.6 536.3,956.8 543.1,961.5 C549.9,966.2 560.6,971.2 570.1,976.5 C579.6,981.8 590.1,988 600.1,993 C610.1,998 620.1,1002.6 630.1,1006.6 C640.1,1010.6 651.4,1013.9 660.2,1017.1 C669,1020.4 676.5,1023.1 682.7,1026.1 C689,1029.1 693.2,1031.8 697.7,1035.1 C702.2,1038.3 706.5,1042.3 709.7,1045.6 C713,1048.8 715.2,1051.3 717.2,1054.6 C719.2,1057.8 720.2,1060.3 721.7,1065.1 C723.2,1069.8 724.6,1078.9 726.2,1083.1 C727.8,1087.2 728.5,1086.8 731.5,1090 C734.5,1093.2 740.1,1096.7 744.2,1102.5 C748.3,1108.3 752.5,1116.7 756.2,1125 C760,1133.3 763.6,1143 766.7,1152.1 C769.8,1161.2 773.1,1181.8 775,1179.8 C776.9,1177.8 777.2,1153.3 778,1140 C778.8,1126.7 779.5,1123.3 780,1100 C780.5,1076.7 780.9,1027.7 781.2,1000 C781.5,972.3 781.5,945 781.6,934 Z" fill="#a4fc3c"/>
<path d="M710.4,934 C711,938.8 712.3,953.2 714.2,963 C716.1,972.8 718.7,983 721.7,993 C724.7,1003 729,1012.8 732.2,1023.1 C735.5,1033.4 738.7,1044.6 741.2,1054.6 C743.7,1064.6 745.6,1077 747.2,1083.1 C748.8,1089.2 748.8,1086.5 751,1091 C753.2,1095.5 756.7,1102.3 760.7,1110 C764.7,1117.7 772.1,1138.2 775,1137 C777.9,1135.8 777.2,1117 778,1102.5 C778.8,1088 779.5,1078.1 780,1050 C780.5,1021.9 781.1,953.3 781.3,934 Z" fill="#eecf3a"/>
<path d="M739.7,934 C740,938.8 740,953.2 741.2,963 C742.5,972.8 745,983 747.2,993 C749.5,1003 752.7,1012.8 754.7,1023.1 C756.7,1033.4 758,1044.6 759.2,1054.6 C760.5,1064.6 761.2,1076.4 762.2,1083.1 C763.2,1089.8 763.4,1090.6 765.5,1095 C767.6,1099.4 772.8,1110.2 775,1109.3 C777.2,1108.3 777.7,1100.8 778.6,1089.3 C779.5,1077.8 779.8,1065.9 780.2,1040 C780.6,1014.1 780.9,951.7 781,934 Z" fill="#fb7e21"/>
<path d="M754.7,934 C755,938.8 755.2,953.2 756.2,963 C757.2,972.8 759.2,983 760.7,993 C762.2,1003 763.7,1012.8 765.2,1023.1 C766.7,1033.4 768.2,1044.3 769.7,1054.6 C771.2,1064.8 772.9,1084.8 774.2,1084.6 C775.6,1084.3 776.9,1068.4 777.8,1053.1 C778.7,1037.8 779.3,1012.9 779.8,993 C780.3,973.1 780.5,943.8 780.6,934 Z" fill="#d02f05"/>
<path d="M764.5,934 C764.6,938.8 764.3,951.9 765.2,963 C766.1,974.1 768.1,989.6 769.7,1000.6 C771.3,1011.6 773.5,1030.4 775,1029.1 C776.5,1027.8 777.9,1006.5 778.6,993 C779.4,979.5 779.3,957.8 779.5,948 C779.7,938.2 779.8,936.3 779.8,934 Z" fill="#7a0403"/>
<rect x="783" y="934" width="62" height="299" fill="#28bceb"/>
<path d="M786.5,1233 C786.6,1227.5 786.7,1210.5 787.2,1200 C787.7,1189.5 788.3,1179.2 789.3,1170 C790.3,1160.8 791.6,1150.8 793,1145 C794.4,1139.2 796.3,1134.7 797.8,1135.2 C799.3,1135.7 800.9,1141.4 802,1148 C803.1,1154.6 803.8,1165.5 804.3,1175 C804.8,1184.5 805,1195.3 805.2,1205 C805.4,1214.7 805.5,1228.3 805.5,1233 Z" fill="#466be3"/>
<line x1="581.6" y1="970.5" x2="765" y2="970.5" stroke="#fff" stroke-width="1.7" stroke-dasharray="7.6 7.7"/>
<path d="M564.8,970.5 L586.6,962.2 L582.1,970.5 L586.6,978.8 Z" fill="#fff"/>
<path d="M781.8,970.5 L760,962.2 L764.5,970.5 L760,978.8 Z" fill="#fff"/>
</g>
<g transform="translate(0,895.2)">
<path d="M101.2,159.3 H837.9 M101.2,194.3 H837.9 M783,41 V159.3 M783,194.3 V336.2" stroke="#000" stroke-width="1.9" fill="none"/>
<rect x="101.2" y="41" width="736.7" height="295.2" fill="none" stroke="#000" stroke-width="1.9"/>
<text x="116.1" y="76.8" font-size="34.5" text-anchor="start" fill="#000" textLength="21.9" lengthAdjust="spacingAndGlyphs">C</text>
<text x="116.2" y="188.8" font-size="34.5" text-anchor="start" fill="#000" textLength="17.5" lengthAdjust="spacingAndGlyphs">S</text>
<text x="116.3" y="327" font-size="34.5" text-anchor="start" fill="#fff" textLength="22.2" lengthAdjust="spacingAndGlyphs">A</text>
<text x="789.8" y="76" font-size="34.5" text-anchor="start" fill="#000" textLength="21.5" lengthAdjust="spacingAndGlyphs">E</text>
<text x="787.4" y="327.2" font-size="34.5" text-anchor="start" fill="#000" textLength="47.2" lengthAdjust="spacingAndGlyphs">OH</text>
<text x="92.5" y="346.2" font-size="35.5" text-anchor="end" fill="#111111" textLength="17.1" lengthAdjust="spacingAndGlyphs">0</text>
<text x="92.5" y="276.9" font-size="35.5" text-anchor="end" fill="#111111" textLength="34.2" lengthAdjust="spacingAndGlyphs">40</text>
<text x="92.5" y="207.6" font-size="35.5" text-anchor="end" fill="#111111" textLength="34.2" lengthAdjust="spacingAndGlyphs">80</text>
<text x="92.5" y="138.3" font-size="35.5" text-anchor="end" fill="#111111" textLength="51.3" lengthAdjust="spacingAndGlyphs">120</text>
<text x="92.5" y="69" font-size="35.5" text-anchor="end" fill="#111111" textLength="51.3" lengthAdjust="spacingAndGlyphs">160</text>
<text x="101.3" y="374.4" font-size="35.5" text-anchor="middle" fill="#111111" textLength="17.1" lengthAdjust="spacingAndGlyphs">0</text>
<text x="237.8" y="374.4" font-size="35.5" text-anchor="middle" fill="#111111" textLength="17.1" lengthAdjust="spacingAndGlyphs">5</text>
<text x="374.4" y="374.4" font-size="35.5" text-anchor="middle" fill="#111111" textLength="34.2" lengthAdjust="spacingAndGlyphs">10</text>
<text x="510.9" y="374.4" font-size="35.5" text-anchor="middle" fill="#111111" textLength="34.2" lengthAdjust="spacingAndGlyphs">15</text>
<text x="647.5" y="374.4" font-size="35.5" text-anchor="middle" fill="#111111" textLength="34.2" lengthAdjust="spacingAndGlyphs">20</text>
<text x="784" y="374.4" font-size="35.5" text-anchor="middle" fill="#111111" textLength="34.2" lengthAdjust="spacingAndGlyphs">25</text>
<text x="838.7" y="374.4" font-size="35.5" text-anchor="middle" fill="#111111" textLength="34.2" lengthAdjust="spacingAndGlyphs">27</text>
<text x="470" y="413.5" font-size="34" text-anchor="middle" fill="#111111" textLength="177" lengthAdjust="spacingAndGlyphs">Width / mm</text>
<text transform="translate(24,188.1) rotate(-90)" font-size="34" text-anchor="middle" fill="#111111" textLength="220" lengthAdjust="spacingAndGlyphs">Thickness / <tspan font-style="italic">µ</tspan>m</text>
</g>
<text x="150.2" y="923.5" font-size="34" fill="#000" textLength="637.3" lengthAdjust="spacingAndGlyphs">e) Electrolyte Concentration 150<tspan font-size="21" dy="-11.8">th</tspan><tspan dy="11.8"> Cycle EoC</tspan></text>
<g transform="translate(0,895.2)">
<rect x="886.9" y="303.2" width="48.1" height="33.2" fill="#30123b"/>
<rect x="886.9" y="270.5" width="48.1" height="33.2" fill="#466be3"/>
<rect x="886.9" y="237.7" width="48.1" height="33.2" fill="#28bceb"/>
<rect x="886.9" y="204.9" width="48.1" height="33.2" fill="#32f298"/>
<rect x="886.9" y="172.1" width="48.1" height="33.2" fill="#a4fc3c"/>
<rect x="886.9" y="139.3" width="48.1" height="33.2" fill="#eecf3a"/>
<rect x="886.9" y="106.6" width="48.1" height="33.2" fill="#fb7e21"/>
<rect x="886.9" y="73.8" width="48.1" height="33.2" fill="#d02f05"/>
<rect x="886.9" y="41" width="48.1" height="33.2" fill="#7a0403"/>
<rect x="886.9" y="40.8" width="48.1" height="295" fill="none" stroke="#262626" stroke-width="1.9"/>
<text x="867.3" y="22.3" font-size="34" fill="#111111" textLength="173.3" lengthAdjust="spacingAndGlyphs">c<tspan font-size="22" dy="5">l</tspan><tspan dy="-5"> in mol/m</tspan><tspan font-size="21" dy="-11.2">3</tspan></text>
<line x1="931" y1="59.2" x2="935" y2="59.2" stroke="#262626" stroke-width="1.8"/>
<text x="949" y="66.6" font-size="31.5" text-anchor="start" fill="#111111" textLength="61.2" lengthAdjust="spacingAndGlyphs">1800</text>
<line x1="931" y1="108.5" x2="935" y2="108.5" stroke="#262626" stroke-width="1.8"/>
<text x="949" y="115.9" font-size="31.5" text-anchor="start" fill="#111111" textLength="61.2" lengthAdjust="spacingAndGlyphs">1600</text>
<line x1="931" y1="157.8" x2="935" y2="157.8" stroke="#262626" stroke-width="1.8"/>
<text x="949" y="165.2" font-size="31.5" text-anchor="start" fill="#111111" textLength="61.2" lengthAdjust="spacingAndGlyphs">1400</text>
<line x1="931" y1="207.1" x2="935" y2="207.1" stroke="#262626" stroke-width="1.8"/>
<text x="949" y="214.5" font-size="31.5" text-anchor="start" fill="#111111" textLength="61.2" lengthAdjust="spacingAndGlyphs">1200</text>
<line x1="931" y1="256.4" x2="935" y2="256.4" stroke="#262626" stroke-width="1.8"/>
<text x="949" y="263.8" font-size="31.5" text-anchor="start" fill="#111111" textLength="61.2" lengthAdjust="spacingAndGlyphs">1000</text>
<line x1="931" y1="305.7" x2="935" y2="305.7" stroke="#262626" stroke-width="1.8"/>
<text x="949" y="313.1" font-size="31.5" text-anchor="start" fill="#111111" textLength="45.9" lengthAdjust="spacingAndGlyphs">800</text>
</g>
<clipPath id="cp12"><rect x="1161.2" y="936.2" width="736.7" height="295.2"/></clipPath>
<g clip-path="url(#cp12)">
<rect x="1155" y="934" width="688" height="299" fill="#28bceb"/>
<path d="M1159,934 L1841.3,934 L1841.3,1050 L1840.5,1097 C1840.3,1109.2 1839.8,1147.3 1839.4,1170 C1839,1192.7 1838.4,1222.5 1838.2,1233 L1159,1233 Z" fill="#32f298"/>
<path d="M1159,934 L1840.8,934 L1840.6,1050 L1839.1,1097.4 C1838.4,1109 1836.2,1144.6 1834.7,1167.2 C1833.2,1189.8 1831.1,1222 1830.4,1233 L1159,1233 Z" fill="#a4fc3c"/>
<path d="M1159,1149.6 L1353.7,1150 C1378.1,1150.2 1464,1150.8 1500,1151.5 C1536,1152.2 1546.5,1152.9 1569.7,1154.1 C1593,1155.3 1619.2,1156 1639.5,1158.5 C1659.8,1161 1677.3,1165.1 1691.8,1168.9 C1706.3,1172.7 1716.4,1177.3 1726.6,1181.1 C1736.8,1184.9 1744.6,1188.8 1752.8,1191.6 C1761,1194.4 1768.8,1197.1 1775.5,1197.7 C1782.2,1198.3 1787.1,1197.9 1792.9,1195.1 C1798.7,1192.3 1805.4,1186.3 1810.3,1181.1 C1815.2,1175.9 1819,1169.5 1822.5,1163.7 C1826,1157.9 1828.7,1152.9 1831.2,1146.2 C1833.7,1139.5 1835.8,1133.1 1837.3,1123.6 C1838.8,1114.1 1839.5,1101.4 1840,1089.1 C1840.5,1076.8 1840.3,1075.8 1840.4,1050 C1840.5,1024.2 1840.4,953.3 1840.4,934 L1159,934 Z" fill="#eecf3a"/>
<path d="M1159,1110.3 L1353.7,1110.9 C1378.1,1111.1 1464,1111.8 1500,1112.3 C1536,1112.8 1546.5,1113 1569.7,1114 C1593,1115 1619.2,1116.5 1639.5,1118.4 C1659.8,1120.3 1675.8,1122.7 1691.8,1125.3 C1707.8,1127.9 1722.3,1131.8 1735.4,1134 C1748.5,1136.2 1760,1138 1770.2,1138.4 C1780.4,1138.9 1788.6,1138.3 1796.4,1136.7 C1804.2,1135.1 1811.8,1132.4 1817.3,1128.8 C1822.8,1125.2 1826.5,1120.1 1829.5,1114.9 C1832.5,1109.7 1834.3,1101.7 1835.6,1097.4 C1836.9,1093.1 1836.8,1095.3 1837.3,1089.1 C1837.8,1082.9 1838.1,1074.8 1838.5,1060 C1838.9,1045.2 1839.3,1021 1839.5,1000 C1839.7,979 1839.8,945 1839.8,934 L1159,934 Z" fill="#fb7e21"/>
<path d="M1159,1052.2 L1300,1052.5 C1321.9,1052.6 1402.9,1052.9 1431.2,1053.2 C1459.5,1053.5 1457.1,1054 1470,1054.5 C1482.9,1055 1495,1055 1508.7,1056.3 C1522.4,1057.5 1536.3,1059.3 1552.3,1062 C1568.3,1064.7 1590.1,1069 1604.6,1072.5 C1619.1,1076 1630.8,1080.3 1639.5,1082.9 C1648.2,1085.5 1648.2,1086.6 1656.9,1088.3 C1665.6,1090 1680.2,1091.6 1691.8,1093.1 C1703.4,1094.6 1715,1096 1726.6,1097.4 C1738.2,1098.9 1751.3,1100.6 1761.5,1101.8 C1771.7,1103 1779,1104.6 1787.7,1104.4 C1796.4,1104.2 1807.1,1102.7 1813.8,1100.9 C1820.5,1099.2 1824.6,1096.1 1827.8,1093.9 C1831,1091.8 1831.8,1092 1833,1088 C1834.2,1084 1834.3,1078 1835,1070 C1835.7,1062 1836.5,1051.7 1837,1040 C1837.5,1028.3 1838,1017.7 1838.3,1000 C1838.6,982.3 1838.7,945 1838.8,934 L1159,934 Z" fill="#d02f05"/>
<path d="M1159,951.5 L1256.9,952 C1273,952.7 1321.4,954.3 1353.7,956.3 C1386,958.3 1426.2,961.9 1450.6,964.1 C1475,966.3 1483,967.2 1500,969.6 C1517,972 1534.9,975.1 1552.3,978.3 C1569.7,981.5 1587.2,984.7 1604.6,988.8 C1622,992.9 1639.5,997.2 1656.9,1002.7 C1674.3,1008.2 1693.2,1016.1 1709.2,1021.9 C1725.2,1027.7 1741.2,1034 1752.8,1037.6 C1764.4,1041.2 1771.6,1042.5 1778.9,1043.7 C1786.2,1044.9 1790.6,1045.2 1796.4,1044.6 C1802.2,1044 1808.9,1042 1813.8,1040.2 C1818.7,1038.5 1823.1,1036.8 1826,1034.1 C1828.9,1031.3 1829.9,1028.9 1831.2,1023.7 C1832.5,1018.5 1833.2,1012 1833.9,1002.7 C1834.6,993.4 1835,979.4 1835.6,967.9 C1836.2,956.4 1837,939.6 1837.3,934 L1159,934 Z" fill="#7a0403"/>
<rect x="1843" y="934" width="62" height="299" fill="#30123b"/>
<path d="M1845.2,934 L1849.5,934 L1849.5,1089 C1849.1,1094.2 1847.7,1109.9 1847,1120 C1846.3,1130.1 1845.6,1139.7 1845.2,1149.7 C1844.8,1159.7 1844.7,1175 1844.6,1180 L1843.8,1180 L1843.8,934 Z" fill="#466be3"/>
<line x1="1778.4" y1="1032.4" x2="1778.4" y2="1079.7" stroke="#fff" stroke-width="1.8"/>
<path d="M1778.4,1096 L1770.1,1074.2 L1778.4,1078.7 L1786.7,1074.2 Z" fill="#fff"/>
</g>
<g transform="translate(1060,895.2)">
<path d="M101.2,159.3 H837.9 M101.2,194.3 H837.9 M783,41 V159.3 M783,194.3 V336.2" stroke="#000" stroke-width="1.9" fill="none"/>
<rect x="101.2" y="41" width="736.7" height="295.2" fill="none" stroke="#000" stroke-width="1.9"/>
<text x="116.1" y="76.8" font-size="34.5" text-anchor="start" fill="#fff" textLength="21.9" lengthAdjust="spacingAndGlyphs">C</text>
<text x="116.2" y="188.8" font-size="34.5" text-anchor="start" fill="#000" textLength="17.5" lengthAdjust="spacingAndGlyphs">S</text>
<text x="116.3" y="327" font-size="34.5" text-anchor="start" fill="#000" textLength="22.2" lengthAdjust="spacingAndGlyphs">A</text>
<text x="789.8" y="76" font-size="34.5" text-anchor="start" fill="#fff" textLength="21.5" lengthAdjust="spacingAndGlyphs">E</text>
<text x="787.4" y="327.2" font-size="34.5" text-anchor="start" fill="#fff" textLength="47.2" lengthAdjust="spacingAndGlyphs">OH</text>
<text x="92.5" y="346.2" font-size="35.5" text-anchor="end" fill="#111111" textLength="17.1" lengthAdjust="spacingAndGlyphs">0</text>
<text x="92.5" y="276.9" font-size="35.5" text-anchor="end" fill="#111111" textLength="34.2" lengthAdjust="spacingAndGlyphs">40</text>
<text x="92.5" y="207.6" font-size="35.5" text-anchor="end" fill="#111111" textLength="34.2" lengthAdjust="spacingAndGlyphs">80</text>
<text x="92.5" y="138.3" font-size="35.5" text-anchor="end" fill="#111111" textLength="51.3" lengthAdjust="spacingAndGlyphs">120</text>
<text x="92.5" y="69" font-size="35.5" text-anchor="end" fill="#111111" textLength="51.3" lengthAdjust="spacingAndGlyphs">160</text>
<text x="101.3" y="374.4" font-size="35.5" text-anchor="middle" fill="#111111" textLength="17.1" lengthAdjust="spacingAndGlyphs">0</text>
<text x="237.8" y="374.4" font-size="35.5" text-anchor="middle" fill="#111111" textLength="17.1" lengthAdjust="spacingAndGlyphs">5</text>
<text x="374.4" y="374.4" font-size="35.5" text-anchor="middle" fill="#111111" textLength="34.2" lengthAdjust="spacingAndGlyphs">10</text>
<text x="510.9" y="374.4" font-size="35.5" text-anchor="middle" fill="#111111" textLength="34.2" lengthAdjust="spacingAndGlyphs">15</text>
<text x="647.5" y="374.4" font-size="35.5" text-anchor="middle" fill="#111111" textLength="34.2" lengthAdjust="spacingAndGlyphs">20</text>
<text x="784" y="374.4" font-size="35.5" text-anchor="middle" fill="#111111" textLength="34.2" lengthAdjust="spacingAndGlyphs">25</text>
<text x="838.7" y="374.4" font-size="35.5" text-anchor="middle" fill="#111111" textLength="34.2" lengthAdjust="spacingAndGlyphs">27</text>
<text x="470" y="413.5" font-size="34" text-anchor="middle" fill="#111111" textLength="177" lengthAdjust="spacingAndGlyphs">Width / mm</text>
<text transform="translate(24,188.1) rotate(-90)" font-size="34" text-anchor="middle" fill="#111111" textLength="220" lengthAdjust="spacingAndGlyphs">Thickness / <tspan font-style="italic">µ</tspan>m</text>
</g>
<text x="1248.2" y="923.5" font-size="34" fill="#000" textLength="563.3" lengthAdjust="spacingAndGlyphs">f) Electrolyte Potential 150<tspan font-size="21" dy="-11.8">th</tspan><tspan dy="11.8"> Cycle EoC</tspan></text>
<g transform="translate(1060,895.2)">
<rect x="886.9" y="303.2" width="48.1" height="33.2" fill="#30123b"/>
<rect x="886.9" y="270.5" width="48.1" height="33.2" fill="#466be3"/>
<rect x="886.9" y="237.7" width="48.1" height="33.2" fill="#28bceb"/>
<rect x="886.9" y="204.9" width="48.1" height="33.2" fill="#32f298"/>
<rect x="886.9" y="172.1" width="48.1" height="33.2" fill="#a4fc3c"/>
<rect x="886.9" y="139.3" width="48.1" height="33.2" fill="#eecf3a"/>
<rect x="886.9" y="106.6" width="48.1" height="33.2" fill="#fb7e21"/>
<rect x="886.9" y="73.8" width="48.1" height="33.2" fill="#d02f05"/>
<rect x="886.9" y="41" width="48.1" height="33.2" fill="#7a0403"/>
<rect x="886.9" y="40.8" width="48.1" height="295" fill="none" stroke="#262626" stroke-width="1.9"/>
<text x="868" y="25.6" font-size="34" fill="#111111" textLength="127.5" lengthAdjust="spacingAndGlyphs">Φ<tspan font-size="22" dy="5.3">l</tspan><tspan dy="-5.3"> in mV</tspan></text>
<line x1="931" y1="55.8" x2="935" y2="55.8" stroke="#262626" stroke-width="1.8"/>
<text x="948.2" y="63.2" font-size="31.5" text-anchor="start" fill="#111111" textLength="30.6" lengthAdjust="spacingAndGlyphs">25</text>
<line x1="931" y1="102.3" x2="935" y2="102.3" stroke="#262626" stroke-width="1.8"/>
<text x="948.2" y="109.7" font-size="31.5" text-anchor="start" fill="#111111" textLength="15.3" lengthAdjust="spacingAndGlyphs">0</text>
<line x1="931" y1="148.8" x2="935" y2="148.8" stroke="#262626" stroke-width="1.8"/>
<text x="948.2" y="156.2" font-size="31.5" text-anchor="start" fill="#111111" textLength="41.1" lengthAdjust="spacingAndGlyphs">-25</text>
<line x1="931" y1="195.3" x2="935" y2="195.3" stroke="#262626" stroke-width="1.8"/>
<text x="948.2" y="202.7" font-size="31.5" text-anchor="start" fill="#111111" textLength="41.1" lengthAdjust="spacingAndGlyphs">-50</text>
<line x1="931" y1="241.9" x2="935" y2="241.9" stroke="#262626" stroke-width="1.8"/>
<text x="948.2" y="249.3" font-size="31.5" text-anchor="start" fill="#111111" textLength="41.1" lengthAdjust="spacingAndGlyphs">-75</text>
<line x1="931" y1="288.4" x2="935" y2="288.4" stroke="#262626" stroke-width="1.8"/>
<text x="948.2" y="295.8" font-size="31.5" text-anchor="start" fill="#111111" textLength="56.4" lengthAdjust="spacingAndGlyphs">-100</text>
<text x="948.2" y="342.4" font-size="31.5" text-anchor="start" fill="#111111" textLength="56.4" lengthAdjust="spacingAndGlyphs">-125</text>
</g>
</svg>
</body></html>
